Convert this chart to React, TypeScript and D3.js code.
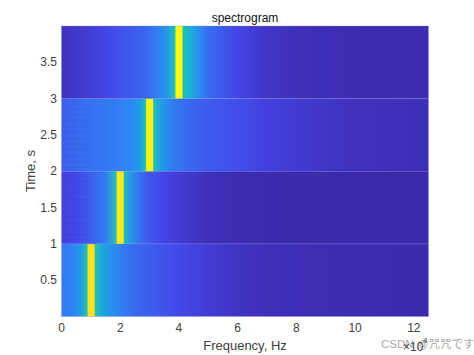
import React from "react";
import * as d3 from "d3";

const W = 474, H = 355;
const xTicks = [0, 2, 4, 6, 8, 10, 12];
const yTicks = [0.5, 1, 1.5, 2, 2.5, 3, 3.5];
const xDomain = [0, 12.5];
const yDomain = [0, 4];

const parulaStops = ["#3b28a8", "#4545e8", "#2e87f7", "#12b1d6", "#37c897", "#abc739", "#fec338", "#f9fb15"];

const segTimes = [[0, 1], [1, 2], [2, 3], [3, 4]];
const segFreqs = [
  [0, 0.4, 0.65, 0.87, 0.91, 1.11, 1.15, 1.4, 1.65, 2, 2.5, 4, 5, 6, 7, 8, 10, 12.5],
  [0, 0.5, 1, 1.5, 1.86, 1.9, 2.1, 2.14, 2.35, 2.7, 3, 3.5, 4, 5, 6, 8, 10, 12.5],
  [0, 0.5, 1, 1.5, 2, 2.4, 2.7, 2.86, 2.9, 3.1, 3.14, 3.4, 3.8, 4.5, 5, 6, 7, 8, 10, 12.5],
  [0, 0.5, 1, 1.5, 2, 2.8, 3.3, 3.55, 3.86, 3.9, 4.1, 4.14, 4.35, 4.7, 5, 6, 7, 8, 10, 12.5],
];
const segValues = [
  [0.26, 0.28, 0.36, 0.52, 0.93, 0.93, 0.52, 0.4, 0.33, 0.27, 0.22, 0.15, 0.1, 0.06, 0.04, 0.03, 0.02, 0.01],
  [0.12, 0.15, 0.2, 0.26, 0.52, 0.96, 0.96, 0.5, 0.34, 0.23, 0.18, 0.14, 0.1, 0.04, 0.02, 0.01, 0.01, 0.01],
  [0.2, 0.22, 0.24, 0.25, 0.27, 0.3, 0.38, 0.52, 0.98, 0.98, 0.5, 0.36, 0.26, 0.21, 0.19, 0.16, 0.12, 0.09, 0.05, 0.03],
  [0.05, 0.08, 0.11, 0.14, 0.17, 0.21, 0.27, 0.34, 0.5, 1, 1, 0.5, 0.45, 0.3, 0.23, 0.14, 0.07, 0.04, 0.02, 0.02],
];
const boundaryLines = [1, 3];
const stripeTimes = [1.06, 1.14, 1.22, 1.3, 1.38, 1.46, 1.54, 1.62, 1.7, 1.78, 1.86, 1.94, 2.06, 2.14, 2.22, 2.3, 2.38, 2.46, 2.54, 2.62, 2.7, 2.78, 2.86];

const titleText = "spectrogram";
const xLabel = "Frequency, Hz";
const yLabel = "Time, s";
const watermark = "CSDN @咒咒です";

const font = "'Liberation Sans', Arial, sans-serif";
const textColor = "#404040";

export default function App() {
  const x = d3.scaleLinear().domain(xDomain).range([61.5, 428.5]);
  const y = d3.scaleLinear().domain(yDomain).range([316.5, 26]);
  const pos = d3.scaleLinear().domain(d3.range(parulaStops.length).map((i) => i / (parulaStops.length - 1))).range(parulaStops as any);
  const color = (v: number) => (pos as any)(v) as string;
  return (
    <svg width={W} height={H} style={{ position: "absolute", left: 0, top: 0, background: "#fff" }}>
      <defs>
        {segFreqs.map((fs, s) => (
          <linearGradient key={s} id={`g${s}`} x1="0" x2="1" y1="0" y2="0">
            {fs.map((f, i) => (
              <stop key={i} offset={(x(f) - x(0)) / (x(12.5) - x(0))} stopColor={color(segValues[s][i])} />
            ))}
          </linearGradient>
        ))}
      </defs>
      {segTimes.map(([t0, t1], s) => (
        <rect key={s} x={x(0)} width={x(12.5) - x(0)} y={y(t1)} height={y(t0) - y(t1)} fill={`url(#g${s})`} />
      ))}
      {stripeTimes.map((t) => (
        <rect key={t} x={x(0)} width={x(1) - x(0)} y={y(t)} height={1} fill="#3b28a8" opacity={0.1} />
      ))}
      {boundaryLines.map((t) => (
        <line key={t} x1={x(0)} x2={x(12.5)} y1={y(t)} y2={y(t)} stroke="#7a80e8" strokeOpacity={0.35} />
      ))}
      <rect x={x(0)} y={y(4)} width={x(12.5) - x(0)} height={y(0) - y(4)} fill="none" stroke="#8a88dd" strokeOpacity={0.35} />
      <g fontFamily={font} fill={textColor} fontSize={12}>
        {xTicks.map((t) => (
          <text key={t} x={x(t)} y={332} textAnchor="middle">{t}</text>
        ))}
        {yTicks.map((t) => (
          <text key={t} x={57} y={y(t) + 4} textAnchor="end">{t}</text>
        ))}
        <text x={x(6.25)} y={22} textAnchor="middle" fill="#111">{titleText}</text>
        <text x={245} y={350} textAnchor="middle" fontSize={13}>{xLabel}</text>
        <text transform={`translate(35,171) rotate(-90)`} textAnchor="middle" fontSize={13}>{yLabel}</text>
      </g>
      <text x={381} y={348} fontFamily="'Liberation Sans', 'Noto Sans CJK JP', sans-serif" fontSize={11.5} fill="#aaaaaa">{watermark}</text>
      <text x={403} y={351} fontFamily={font} fontSize={12} fill={textColor}>×10</text>
      <text x={423} y={343} fontFamily={font} fontSize={8} fill={textColor}>4</text>
    </svg>
  );
}
